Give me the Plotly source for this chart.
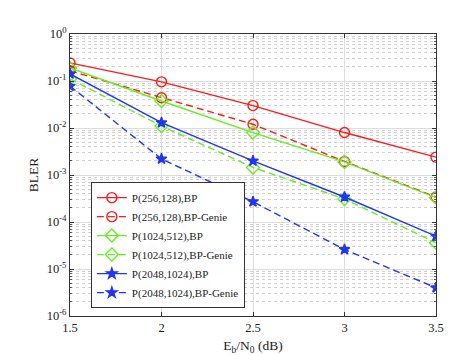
import plotly.graph_objects as go

snr = [1.5, 2.0, 2.5, 3.0, 3.5]
p256_bp = [0.243, 0.096, 0.030, 0.0080, 0.0024]
p256_genie = [0.165, 0.044, 0.012, 0.00194, 0.00034]
p1024_bp = [0.19, 0.0375, 0.0080, 0.00190, 0.00033]
p1024_genie = [0.111, 0.011, 0.00145, 0.00031, 0.000036]
p2048_bp = [0.142, 0.013, 0.0020, 0.00034, 0.000050]
p2048_genie = [0.078, 0.0022, 0.00027, 0.000026, 0.0000040]

names = ["P(256,128),BP", "P(256,128),BP-Genie", "P(1024,512),BP",
         "P(1024,512),BP-Genie", "P(2048,1024),BP", "P(2048,1024),BP-Genie"]
series = [p256_bp, p256_genie, p1024_bp, p1024_genie, p2048_bp, p2048_genie]

RED, GREEN, BLUE = "#ff1a1a", "#66ee22", "#2236f0"
colors = [RED, RED, GREEN, GREEN, BLUE, BLUE]
dashes = ["solid", "7px,4px", "solid", "7px,4px", "solid", "7px,4px"]
symbols = ["circle-open", "circle-open", "diamond-open", "diamond-open", "star", "star"]
sizes = [10, 10, 10, 10, 8, 8]

fig = go.Figure()
for name, ys, c, d, s, sz in zip(names, series, colors, dashes, symbols, sizes):
    fig.add_trace(go.Scatter(
        x=snr, y=ys, name=name, mode="lines+markers",
        line=dict(color=c, width=1.4, dash=d),
        marker=dict(symbol=s, size=sz, color=c, line=dict(color=c, width=1.4)),
    ))

ytickvals = [1e-6, 1e-5, 1e-4, 1e-3, 1e-2, 1e-1, 1]
yticktext = ["10<sup>-6</sup>", "10<sup>-5</sup>", "10<sup>-4</sup>", "10<sup>-3</sup>",
             "10<sup>-2</sup>", "10<sup>-1</sup>", "10<sup>0</sup>"]
xtickvals = [1.5, 2, 2.5, 3, 3.5]
xticktext = ["1.5", "2", "2.5", "3", "3.5"]

font = "Liberation Serif, Times New Roman, serif"
fig.update_layout(
    width=474, height=355,
    margin=dict(l=62, r=46, t=26, b=47),
    paper_bgcolor="white", plot_bgcolor="white",
    font=dict(family=font, size=12.5, color="#222"),
    showlegend=True,
    legend=dict(x=0.057, y=0.028, xanchor="left", yanchor="bottom",
                bgcolor="white", bordercolor="#333", borderwidth=1,
                font=dict(family=font, size=11, color="#222"),
                tracegroupgap=0, itemwidth=30),
    xaxis=dict(
        range=[1.5, 3.5], tickvals=xtickvals, ticktext=xticktext,
        showline=True, linecolor="#333", linewidth=1, mirror="ticks",
        ticks="inside", ticklen=4, tickcolor="#333",
        showgrid=True, gridcolor="#dcdcdc", gridwidth=1, zeroline=False,
        title=dict(text="E<sub>b</sub>/N<sub>0</sub> (dB)", font=dict(family=font, size=13.5), standoff=6),
    ),
    yaxis=dict(
        type="log", range=[-6, 0], tickvals=ytickvals, ticktext=yticktext,
        showline=True, linecolor="#333", linewidth=1, mirror="ticks",
        ticks="inside", ticklen=4, tickcolor="#333",
        showgrid=True, gridcolor="#dcdcdc", gridwidth=1, zeroline=False,
        minor=dict(showgrid=True, gridcolor="#d0d0d0", griddash="dot", gridwidth=1,
                   ticks="inside", ticklen=2, tickcolor="#555",
                   tickvals=[m * 10 ** e for e in range(-6, 0) for m in range(2, 10)]),
        title=dict(text="BLER", font=dict(family=font, size=13.5), standoff=4),
    ),
)

fig.write_html("out.html")
